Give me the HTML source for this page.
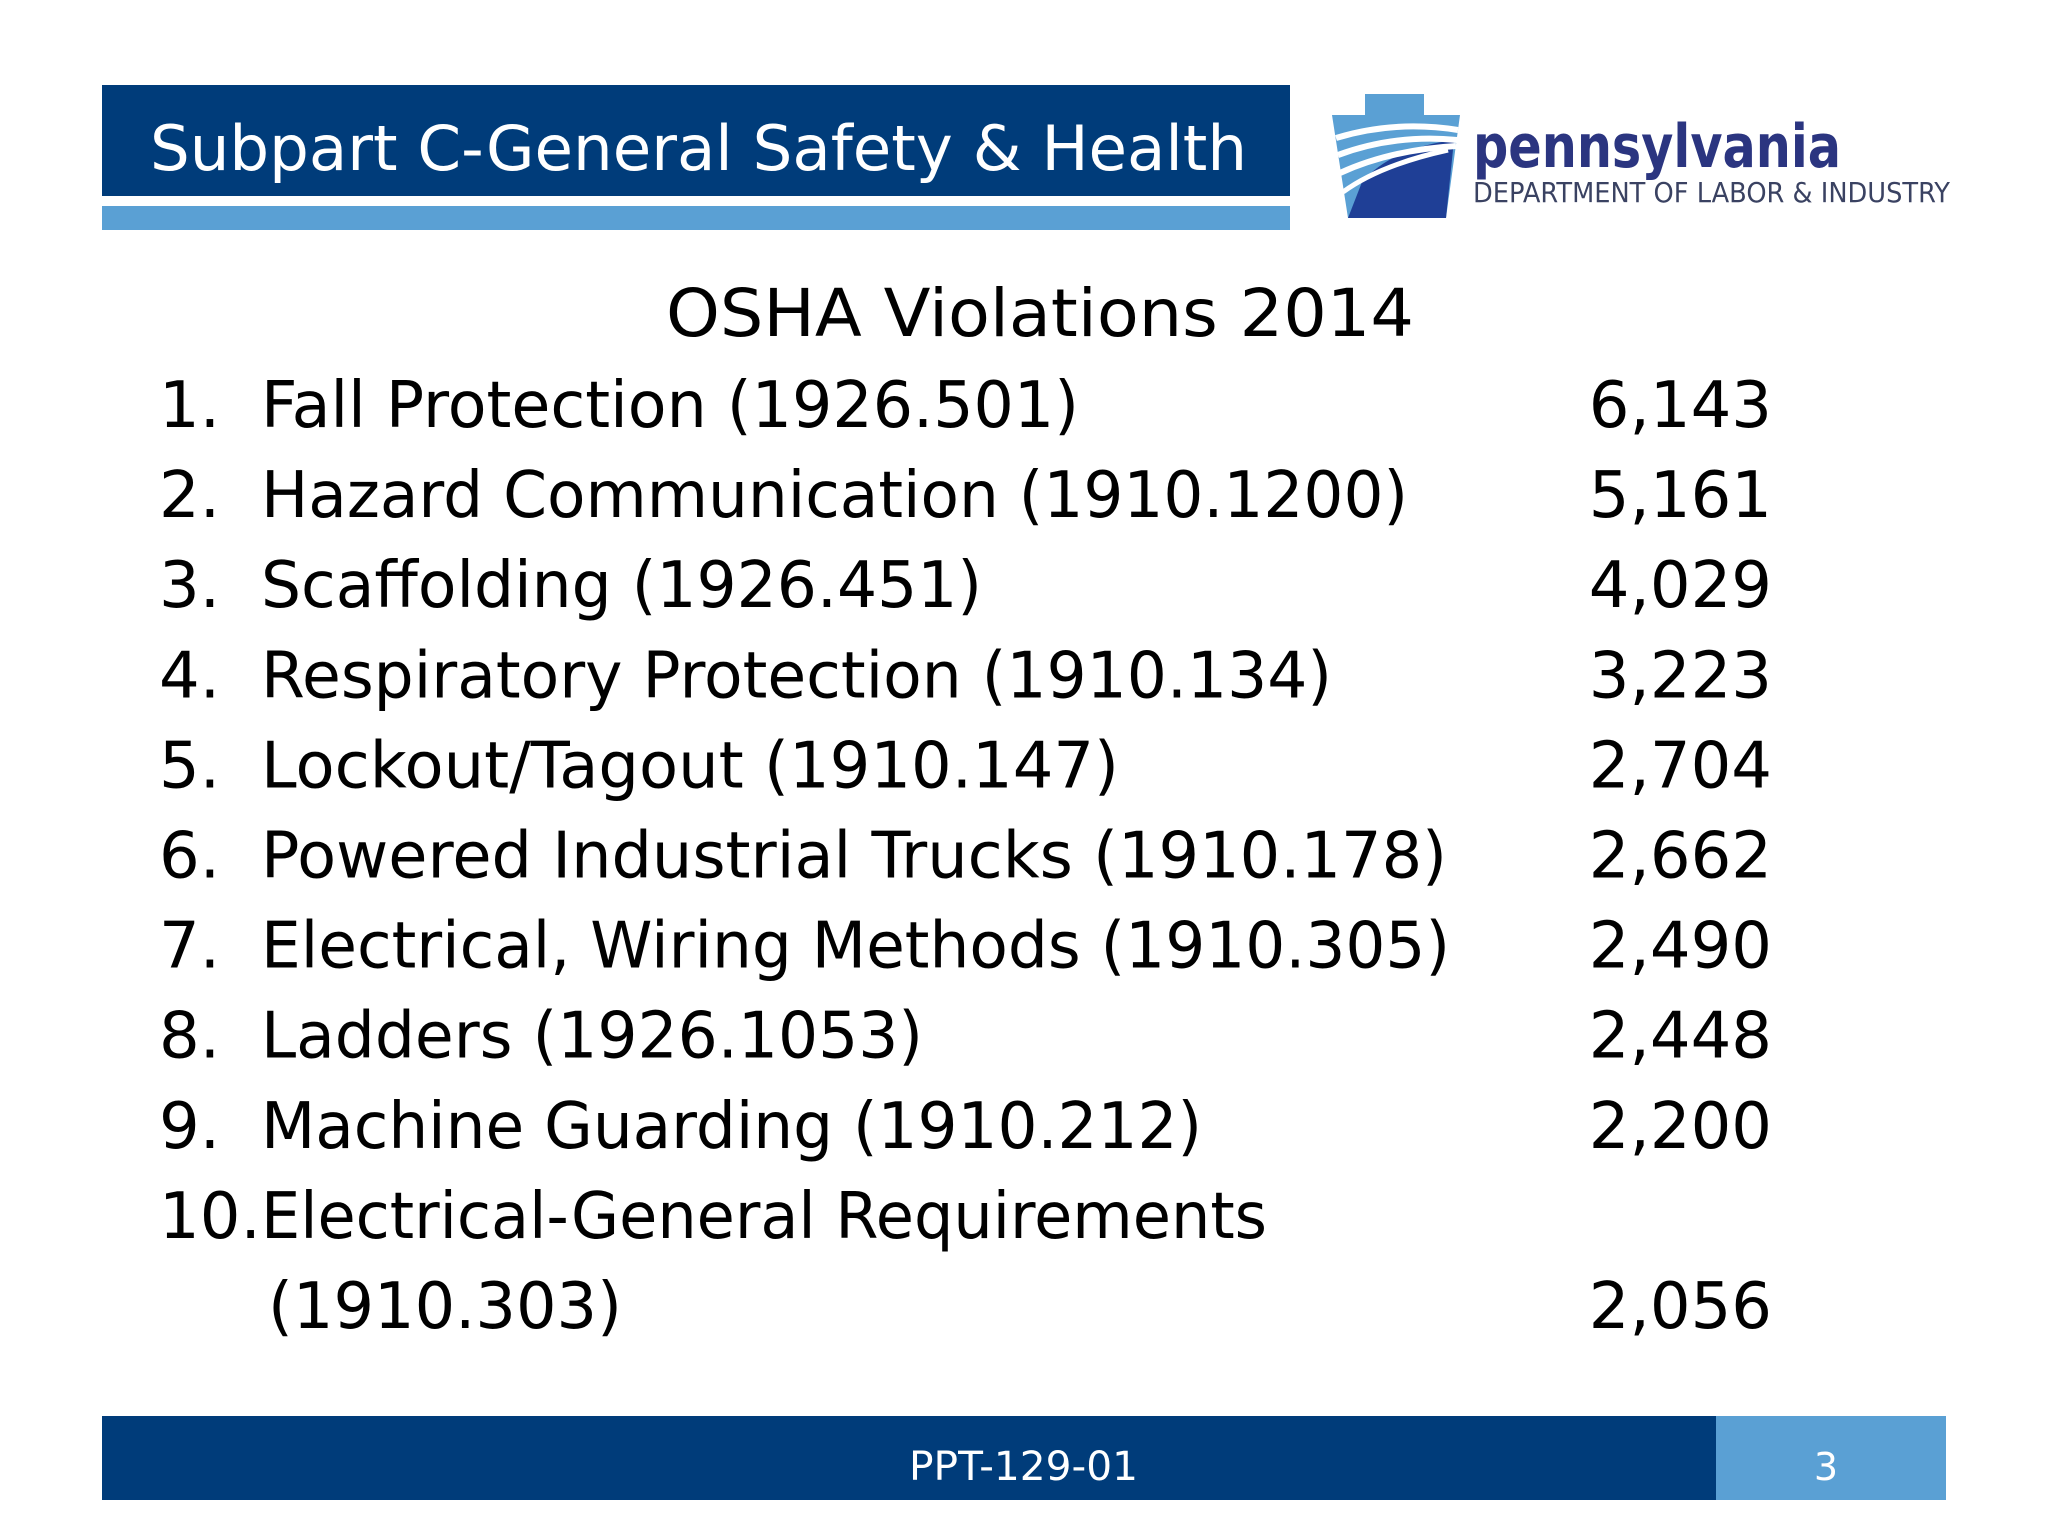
<!DOCTYPE html>
<html><head><meta charset="utf-8"><style>
html,body{margin:0;padding:0;background:#fff;}
svg{display:block;}
text{font-family:"DejaVu Sans","Liberation Sans",sans-serif;}
</style></head><body>
<svg width="2048" height="1536" viewBox="0 0 2048 1536" xmlns="http://www.w3.org/2000/svg">
<rect x="102" y="85" width="1188" height="111" fill="#003c7a"/>
<rect x="102" y="206" width="1188" height="24" fill="#5aa0d4"/>
<text x="150" y="170" font-size="62" fill="#fff" textLength="1097" lengthAdjust="spacingAndGlyphs">Subpart C-General Safety &amp; Health</text>
<g>
<path d="M1365 94 L1424 94 L1424 115 L1460 115 L1446 218 L1348 218 L1332 115 L1365 115 Z" fill="#5aa0d4"/>
<path d="M1348 218 L1362 182 Q1392 148 1454 140 L1446 218 Z" fill="#1f3f96"/>
<path d="M1336 138 Q1395 120 1458 130" stroke="#fff" stroke-width="6" fill="none"/>
<path d="M1338 155 Q1395 134 1457 140" stroke="#fff" stroke-width="6" fill="none"/>
<path d="M1340 173 Q1390 150 1456 146" stroke="#fff" stroke-width="6" fill="none"/>
<path d="M1343 192 Q1380 165 1448 150" stroke="#fff" stroke-width="5" fill="none"/>
<text x="1473" y="167" font-size="60" font-weight="bold" fill="#2b3580" textLength="368" lengthAdjust="spacingAndGlyphs">pennsylvania</text>
<text x="1473" y="202" font-size="28" fill="#3a4262" textLength="477" lengthAdjust="spacingAndGlyphs">DEPARTMENT OF LABOR &amp; INDUSTRY</text>
</g>
<text x="666" y="336" font-size="66" fill="#000" textLength="748" lengthAdjust="spacingAndGlyphs">OSHA Violations 2014</text>
<g id="list"></g>
<rect x="102" y="1416" width="1614" height="84" fill="#003c7a"/>
<rect x="1716" y="1416" width="230" height="84" fill="#5aa0d4"/>
<text x="909" y="1480" font-size="40" fill="#fff" textLength="229" lengthAdjust="spacingAndGlyphs">PPT-129-01</text>
<text x="1826" y="1480" font-size="38" fill="#fff" text-anchor="middle">3</text>
</svg>
<script>
const ranks = ["1.","2.","3.","4.","5.","6.","7.","8.","9.","10."];
const labels = ["Fall Protection (1926.501)","Hazard Communication (1910.1200)","Scaffolding (1926.451)","Respiratory Protection (1910.134)","Lockout/Tagout (1910.147)","Powered Industrial Trucks (1910.178)","Electrical, Wiring Methods (1910.305)","Ladders (1926.1053)","Machine Guarding (1910.212)","Electrical-General Requirements"];
const values = ["6,143","5,161","4,029","3,223","2,704","2,662","2,490","2,448","2,200","2,056"];
const labelRight = [1079,1408,982,1332,1119,1447,1450,923,1202,1267];
const NS="http://www.w3.org/2000/svg";
const g=document.getElementById('list');
function mk(x,y,txt,len,anchor){
  const t=document.createElementNS(NS,'text');
  t.setAttribute('x',x);t.setAttribute('y',y);t.setAttribute('font-size','64');t.setAttribute('fill','#000');
  if(len){t.setAttribute('textLength',len);t.setAttribute('lengthAdjust','spacingAndGlyphs');}
  if(anchor)t.setAttribute('text-anchor',anchor);
  t.textContent=txt;g.appendChild(t);return t;
}
const y0=427, step=90.1;
for(let i=0;i<labels.length;i++){
  const y=y0+i*step;
  const r=mk(159,y,ranks[i]);
  
  
  const l=mk(261,y,labels[i],labelRight[i]-261);
  
  
  const vy = i===labels.length-1 ? y+step : y;
  const v=mk(1772,vy,values[i],null,'end');
  
  
}
const c=mk(268,y0+10*step,"(1910.303)",354);


</script>
</body></html>
